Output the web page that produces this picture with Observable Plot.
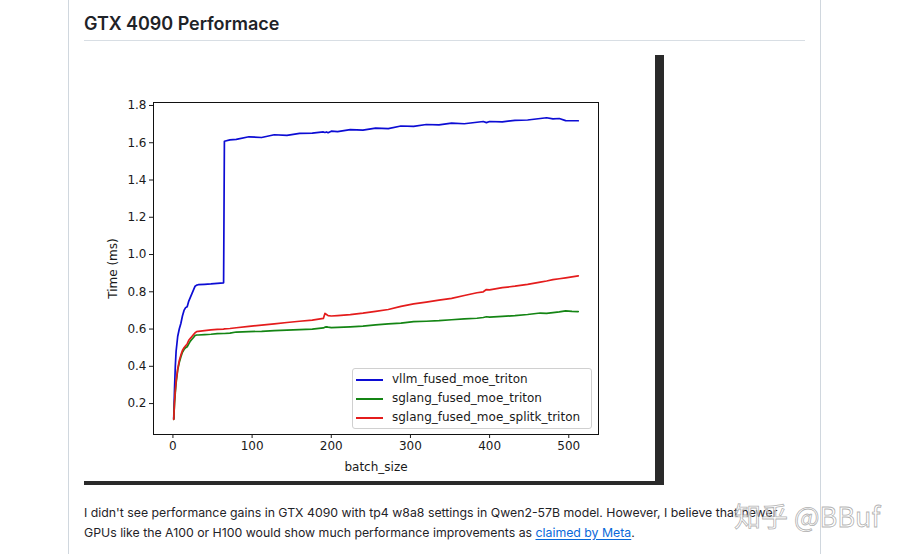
<!DOCTYPE html>
<html><head><meta charset="utf-8">
<script src="https://cdn.jsdelivr.net/npm/d3@7"></script>
<script src="https://cdn.jsdelivr.net/npm/@observablehq/plot@0.6"></script>
<style>
body{margin:0;background:#fff;width:907px;height:554px;overflow:hidden;position:relative;font-family:"Inter","Liberation Sans",sans-serif;}
.vline{position:absolute;top:0;height:554px;width:1px;background:#d0d7de;}
h2{position:absolute;left:84px;top:13px;margin:0;font-size:18px;font-weight:600;color:#1f2328;letter-spacing:-0.05px;}
.hr{position:absolute;left:84px;top:40px;width:721px;height:1px;background:#d8dee4;}
#chartbox{position:absolute;left:84px;top:55px;width:571px;height:426px;background:#fff;border-right:9px solid #2a2a2a;border-bottom:4px solid #2a2a2a;}
#chartbox svg{position:absolute;left:0;top:0;}
#legend{position:absolute;left:268px;top:313px;width:238px;height:59px;border:1px solid #d0d0d0;border-radius:3px;background:rgba(255,255,255,0.85);font-family:"DejaVu Sans";font-size:12px;color:#1a1a1a;}
#legend .row{position:absolute;left:3px;height:19px;line-height:19px;white-space:nowrap;}
#legend .sw{display:inline-block;width:27px;height:2px;vertical-align:middle;margin-right:9px;}
p{position:absolute;left:84px;top:503px;margin:0;font-size:12.3px;line-height:19.5px;color:#1f2328;width:760px;white-space:nowrap;}
a{color:#0969da;text-decoration:underline;text-underline-offset:2px;}
#wm{position:absolute;left:734px;top:496px;font-family:"Noto Sans CJK SC";font-size:27px;color:rgba(255,255,255,0.6);-webkit-text-stroke:0.8px rgba(150,150,150,0.75);white-space:nowrap;}
</style></head>
<body>
<div class="vline" style="left:68px"></div>
<div class="vline" style="left:820px"></div>
<h2>GTX 4090 Performace</h2>
<div class="hr"></div>
<div id="chartbox"><div id="legend"></div></div>
<p>I didn't see performance gains in GTX 4090 with tp4 w8a8 settings in Qwen2-57B model. However, I believe that newer<br>GPUs like the A100 or H100 would show much performance improvements as <a>claimed by Meta</a>.</p>
<div id="wm">知乎 @BBuf</div>
<script>
const batch = [1,2,3,4,6,8,10,12,14,16,18,20,22,24,26,28,30,32,40,48,56,64,65,72,80,96,112,128,144,160,176,190,192,194,196,200,208,224,240,256,272,288,304,320,336,352,368,384,392,396,400,416,432,448,464,472,480,488,496,504,512];
const vllm = [0.12,0.28,0.40,0.48,0.56,0.60,0.63,0.67,0.70,0.715,0.72,0.75,0.77,0.79,0.81,0.83,0.836,0.838,0.84,0.842,0.845,0.848,1.608,1.615,1.618,1.632,1.628,1.643,1.640,1.650,1.652,1.658,1.655,1.658,1.654,1.662,1.660,1.670,1.668,1.678,1.676,1.690,1.688,1.698,1.696,1.705,1.702,1.710,1.714,1.708,1.714,1.712,1.720,1.722,1.730,1.734,1.728,1.730,1.719,1.718,1.718];
const sglang = [0.115,0.20,0.26,0.31,0.38,0.42,0.45,0.475,0.49,0.50,0.505,0.52,0.535,0.545,0.555,0.565,0.568,0.568,0.570,0.572,0.575,0.576,0.576,0.578,0.584,0.586,0.588,0.592,0.594,0.597,0.600,0.606,0.610,0.612,0.610,0.608,0.609,0.612,0.616,0.622,0.628,0.632,0.640,0.642,0.645,0.650,0.655,0.658,0.662,0.666,0.664,0.668,0.672,0.678,0.686,0.684,0.688,0.692,0.698,0.695,0.694];
const splitk = [0.115,0.21,0.27,0.32,0.385,0.43,0.46,0.485,0.50,0.51,0.52,0.54,0.55,0.56,0.57,0.58,0.586,0.588,0.592,0.596,0.598,0.600,0.601,0.603,0.607,0.614,0.621,0.628,0.635,0.642,0.648,0.657,0.684,0.678,0.672,0.670,0.672,0.677,0.685,0.695,0.705,0.722,0.735,0.745,0.755,0.765,0.780,0.795,0.800,0.812,0.810,0.822,0.830,0.840,0.852,0.858,0.865,0.870,0.875,0.880,0.885];
const seriesNames = ["vllm_fused_moe_triton","sglang_fused_moe_triton","sglang_fused_moe_splitk_triton"];
const seriesColors = ["#0c0cd4","#148514","#e41c1c"];
const xTicks = [0,100,200,300,400,500];
const yTicks = [0.2,0.4,0.6,0.8,1.0,1.2,1.4,1.6,1.8];

const rows = [];
[vllm, sglang, splitk].forEach((vals, i) => vals.forEach((v, j) => rows.push({batch: batch[j], time: v, series: seriesNames[i]})));

const chart = Plot.plot({
  width: 571, height: 426,
  marginLeft: 69, marginRight: 57, marginTop: 47, marginBottom: 47,
  style: {background: "transparent", fontFamily: "DejaVu Sans", fontSize: "12px", color: "#1a1a1a"},
  x: {domain: [-24.55, 537.55]},
  y: {domain: [0.034, 1.816]},
  color: {domain: seriesNames, range: seriesColors},
  marks: [
    Plot.line(rows, {x: "batch", y: "time", z: "series", stroke: "series", strokeWidth: 1.7}),
    Plot.frame({stroke: "#111", strokeWidth: 1}),
    Plot.axisX({ticks: xTicks, tickSize: 4, tickPadding: 3, fontSize: 12, label: "batch_size", labelAnchor: "center", labelArrow: "none", labelOffset: 36}),
    Plot.axisY({ticks: yTicks, tickFormat: d3.format(".1f"), tickSize: 4, tickPadding: 3, fontSize: 12, label: "Time (ms)", labelAnchor: "center", labelArrow: "none", labelOffset: 45})
  ]
});
const box = document.getElementById("chartbox");
box.insertBefore(chart, box.firstChild);

const legend = document.getElementById("legend");
seriesNames.forEach((n, i) => {
  const r = document.createElement("div");
  r.className = "row";
  r.style.top = (1 + i * 19) + "px";
  r.innerHTML = `<span class="sw" style="background:${seriesColors[i]}"></span>${n}`;
  legend.appendChild(r);
});
</script>
</body></html>
